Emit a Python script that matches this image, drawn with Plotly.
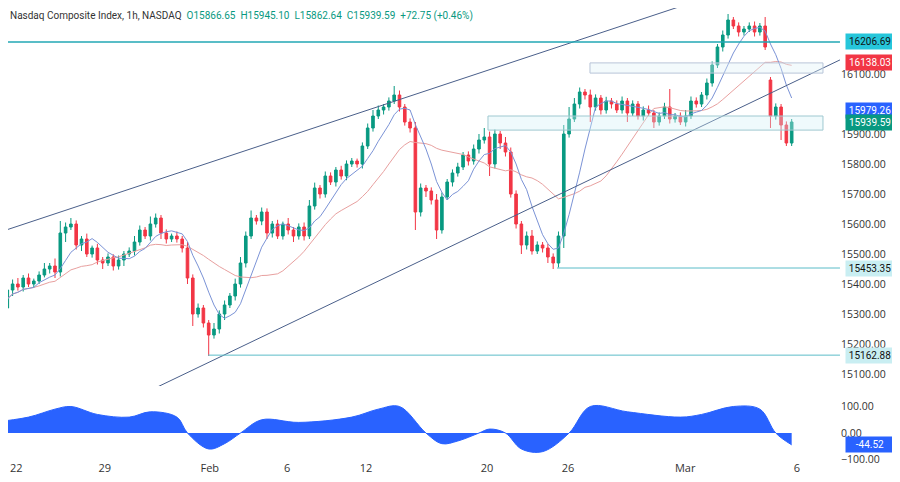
import plotly.graph_objects as go
import numpy as np

closes = [15320,15380,15400,15390,15420,15400,15410,15430,15450,15460,
          15440,15570,15590,15600,15530,15550,15500,15520,15480,15470,
          15490,15460,15480,15500,15510,15540,15580,15560,15600,15620,
          15570,15550,15560,15550,15520,15420,15300,15320,15270,15230,
          15250,15300,15330,15360,15400,15470,15560,15620,15610,15640,
          15570,15600,15560,15600,15580,15560,15590,15560,15660,15720,
          15700,15760,15740,15780,15760,15800,15810,15800,15860,15920,
          15960,15980,15990,16010,16030,15990,15940,15920,15640,15720,
          15710,15680,15580,15690,15740,15770,15790,15830,15810,15850,
          15880,15890,15800,15900,15870,15840,15700,15600,15530,15560,
          15510,15530,15520,15490,15470,15560,15900,15950,16000,16040,
          16030,15990,16020,15980,16010,16000,15980,16010,15970,16000,
          15960,15980,15970,15940,15960,15990,15950,15960,15940,15960,
          16010,16000,16030,16070,16130,16190,16230,16280,16260,16240,
          16250,16260,16240,16260,16190,15960,15990,15930,15870,15940]
opens = [15300] + closes[:-1]
opens[145] = 16080
wick_up = [10,30,15,20,10,15,8,12,20,10, 25,40,15,20,12,10,18,8,14,10,
           12,9,15,10,12,20,15,10,25,15, 10,12,8,15,10,20,12,15,10,10,
           20,12,15,10,18,20,15,25,10,15, 12,10,14,8,20,10,12,15,20,18,
           10,15,12,10,14,12,10,8,12,15, 20,15,10,12,30,15,10,12,20,15,
           10,12,20,15,10,12,14,10,12,15, 20,30,18,15,10,20,15,12,10,15,
           20,12,10,14,12,15,30,40,20,15, 10,18,12,10,14,10,12,15,10,12,
           10,12,15,10,12,14,60,10,12,20, 15,12,10,15,12,10,15,20,10,12,
           10,12,15,10,30,10,12,10,12,10]
wick_dn = [15,10,20,12,15,10,12,10,8,15, 20,15,30,10,15,20,10,12,15,20,
           10,15,12,20,10,15,12,10,15,12, 20,15,10,12,15,20,40,12,15,70,
           12,15,20,10,15,12,15,10,12,14, 20,15,10,12,15,20,12,15,10,12,
           15,12,10,15,12,14,10,12,15,10, 12,10,15,12,10,15,12,15,60,15,
           20,15,30,12,10,15,12,10,15,12, 15,12,40,15,20,15,12,15,30,15,
           12,10,15,20,20,15,40,12,10,15, 15,50,12,15,12,15,10,12,30,10,
           12,15,10,20,12,10,15,12,10,15, 10,12,10,15,12,10,15,12,10,15,
           12,10,15,12,10,40,12,50,10,10]
highs = [max(o, c) + w for o, c, w in zip(opens, closes, wick_up)]
lows = [min(o, c) - w for o, c, w in zip(opens, closes, wick_dn)]

osc_x = [-2,5,10,13,18,24,28,33,35,39,42,45,49,56,66,71,75,80,83,86,90,92,95,98,102,107,111,118,128,132,138,143,146,149]
osc_y = [40,60,90,100,70,60,80,60,0,-60,-40,0,50,40,60,90,100,0,-40,-30,0,15,0,-60,-70,0,100,80,60,70,100,90,0,-44.52]

tick_vals = [19.4,39.2,53.8,68.7,91.5,106.8,128.9,150.0]
tick_text = ["29","Feb","6","12","20","26","Mar","6"]
first_tick_text = "22"
price_ticks = [15100, 15200, 15300, 15400, 15500, 15600, 15700, 15800, 15900, 16100, 16300]

def px(p):
    return (p - 2) / 5.3

c = np.array(closes, float)
def sma(a, n):
    out = np.full(len(a), np.nan)
    for i in range(len(a)):
        lo = max(0, i - n + 1)
        out[i] = a[lo:i+1].mean()
    return out
ma_fast = sma(c, 7)
ma_slow = sma(c, 18)
xi = list(range(len(closes)))

GREEN, RED = "#089981", "#f23645"
fig = go.Figure()
fig.add_trace(go.Scatter(x=xi, y=ma_slow, mode="lines", line=dict(color="#e8a09f", width=1), xaxis="x", yaxis="y"))
fig.add_trace(go.Scatter(x=xi, y=ma_fast, mode="lines", line=dict(color="#7b93d6", width=1), xaxis="x", yaxis="y"))
fig.add_trace(go.Candlestick(x=xi, open=opens, high=highs, low=lows, close=closes,
    increasing=dict(line=dict(color=GREEN, width=1), fillcolor=GREEN),
    decreasing=dict(line=dict(color=RED, width=1), fillcolor=RED), whiskerwidth=0, xaxis="x", yaxis="y"))
fig.add_trace(go.Scatter(x=osc_x, y=osc_y, mode="lines", line=dict(color="#2962ff", width=1, shape="spline"),
    fill="tozeroy", fillcolor="#2962ff", xaxis="x", yaxis="y2"))

# page body has an 8px margin: figure origin sits at screen (8, 8)
XR = [px(8), px(840)]
shapes = []
shapes.append(dict(type="line", xref="x", yref="y", x0=px(8), y0=15582, x1=px(700), y1=16347, line=dict(color="#4a5f8a", width=1)))
shapes.append(dict(type="line", xref="x", yref="y", x0=px(145), y0=15037, x1=px(840), y1=16147, line=dict(color="#4a5f8a", width=1)))
shapes.append(dict(type="line", xref="x", yref="y", x0=XR[0], y0=16206.69, x1=XR[1], y1=16206.69, line=dict(color="#22a7b5", width=1.5)))
shapes.append(dict(type="line", xref="x", yref="y", x0=px(557), y0=15453.35, x1=XR[1], y1=15453.35, line=dict(color="#5bbcc8", width=1)))
shapes.append(dict(type="line", xref="x", yref="y", x0=px(208), y0=15162.88, x1=XR[1], y1=15162.88, line=dict(color="#5bbcc8", width=1)))
shapes.append(dict(type="rect", xref="x", yref="y", x0=px(590), y0=16103, x1=px(823), y1=16137, line=dict(color="#b8c4d8", width=1), fillcolor="rgba(220,240,245,0.35)"))
shapes.append(dict(type="rect", xref="x", yref="y", x0=px(488), y0=15913, x1=px(823), y1=15960, line=dict(color="#9fc8d0", width=1), fillcolor="rgba(210,240,245,0.35)"))

anns = []
def label(y, text, bg, fg, yref="y"):
    anns.append(dict(xref="paper", yref=yref, x=0.9385, y=y, xanchor="left", yanchor="middle", text=text,
        showarrow=False, bgcolor=bg, font=dict(color=fg, size=10, family="Roboto"), borderpad=2, width=44))
label(16206.69, "16206.69", "#26c6da", "#111")
label(16138.03, "16138.03", RED, "white")
label(15979.26, "15979.26", "#2962ff", "white")
label(15939.59, "15939.59", GREEN, "white")
label(15453.35, "15453.35", "#c9eef2", "#111")
label(15162.88, "15162.88", "#c9eef2", "#111")
label(-44.52, "-44.52", "#2962ff", "white", yref="y2")
anns.append(dict(xref="paper", yref="paper", x=0.0, y=1.0, xanchor="left", yanchor="top", showarrow=False,
    text="Nasdaq Composite Index, 1h, NASDAQ  <span style='color:#089981'>O15866.65  H15945.10  L15862.64  C15939.59  +72.75 (+0.46%)</span>",
    font=dict(size=10, color="#333", family="Roboto")))
anns.append(dict(xref="paper", yref="paper", x=0.0, y=0, xanchor="left", yanchor="top", yshift=2, showarrow=False,
    text=first_tick_text, font=dict(size=11, color="#333")))

fig.update_layout(
    width=892, height=474, margin=dict(l=0, r=0, t=0, b=22, autoexpand=False),
    paper_bgcolor="white", plot_bgcolor="white", showlegend=False,
    shapes=shapes, annotations=anns,
    xaxis=dict(domain=[0, 0.9327], range=XR, showgrid=False, zeroline=False, rangeslider=dict(visible=False),
               tickvals=tick_vals, ticktext=tick_text, tickfont=dict(size=11, color="#333"), ticks="", anchor="y2", automargin=False),
    yaxis=dict(domain=[0.1637, 1], range=[15060, 16320], side="right", anchor="x",
               showgrid=False, zeroline=False, tickvals=price_ticks, automargin=False,
               ticktext=[f"{v}.00" for v in price_ticks], tickfont=dict(size=10.5, color="#333"), ticks=""),
    yaxis2=dict(domain=[0.0, 0.150], range=[-101.5, 153.8], side="right", anchor="x", showgrid=False, zeroline=False, automargin=False,
                tickvals=[-100, 0, 100], ticktext=["−100.00", "0.00", "100.00"], tickfont=dict(size=10.5, color="#333"), ticks=""),
)
fig.write_html("out.html")
